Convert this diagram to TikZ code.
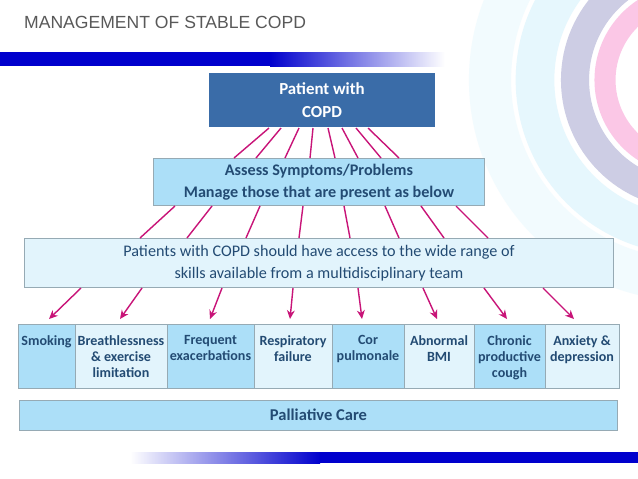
\documentclass[tikz,border=0pt]{standalone}
\usetikzlibrary{arrows.meta}
\usepackage{fontspec}
\setmainfont{Carlito}
\newfontfamily\titlefont{Liberation Sans}
\definecolor{dblue}{RGB}{0,0,205}
\definecolor{topbox}{RGB}{58,108,168}
\definecolor{lblue}{RGB}{172,223,248}
\definecolor{vlblue}{RGB}{226,244,252}
\definecolor{txtblue}{RGB}{35,75,115}
\definecolor{lnk}{RGB}{200,20,120}
\definecolor{edge}{RGB}{150,170,180}
\begin{document}
\begin{tikzpicture}[x=0.02cm,y=-0.02cm,
  box/.style={draw=edge,line width=0.5pt,text=txtblue,align=center,inner sep=0pt},
  lk/.style={draw=lnk,line width=0.8pt},
  ar/.style={lk,-{Stealth[length=5pt,width=4.5pt]}}]
\useasboundingbox (0,0) rectangle (638,478);
\fill[white] (0,0) rectangle (638,478);
% decorative rings
\begin{scope}
\clip (440,0) rectangle (638,330);
\draw[cyan!5,line width=24pt] (690,80) circle (200);
\draw[cyan!10,line width=22pt] (690,80) circle (155);
\draw[blue!30!gray!30,line width=16pt] (690,80) circle (115);
\draw[magenta!22,line width=12pt] (690,80) circle (85);
\end{scope}
% title and bars
\node[anchor=west,text=black!65,font=\titlefont\fontsize{10}{10}\selectfont] (title) at (18,22) {MANAGEMENT OF STABLE COPD};
\fill[dblue] (0,52) rectangle (270,66);
\shade[left color=dblue,right color=white] (270,52) rectangle (445,66);
\shade[left color=white,right color=dblue] (130,452) rectangle (320,463);
\fill[dblue] (320,452) rectangle (638,463);
% boxes
\node[box,draw=none,fill=topbox,text=white,font=\fontsize{9.6}{13}\selectfont\bfseries,minimum width=226*0.567pt,minimum height=55*0.567pt] (p) at (322,100) {Patient with\\COPD};
\node[box,fill=lblue,font=\fontsize{9.2}{12.5}\selectfont\bfseries,minimum width=332*0.567pt,minimum height=48*0.567pt] (a) at (319,182) {Assess Symptoms/Problems\\Manage those that are present as below};
\node[box,fill=vlblue,font=\fontsize{9.2}{12.5}\selectfont,minimum width=592*0.567pt,minimum height=50*0.567pt] (m) at (319,263) {Patients with COPD should have access to the wide range of\\skills available from a multidisciplinary team};
% cells
\foreach \xa/\xb/\c/\t/\n in {18/75/lblue/Smoking/c1, 75/167/vlblue/{Breathlessness\\\& exercise\\limitation}/c2, 167/254/lblue/{Frequent\\exacerbations}/c3, 254/332/vlblue/{Respiratory\\failure}/c4, 332/404/lblue/{Cor\\pulmonale}/c5, 404/474/vlblue/{Abnormal\\BMI}/c6, 474/545/lblue/{Chronic\\productive\\cough}/c7, 545/619/vlblue/{Anxiety \&\\depression}/c8}{
  \fill[\c,draw=edge,line width=0.5pt] (\xa,324) rectangle (\xb,388);
  \node[align=center,text=txtblue,font=\fontsize{8}{9.2}\selectfont\bfseries,anchor=north,inner sep=0pt] (\n) at ({(\xa+\xb)/2},335) {\t};
}
\node[box,fill=lblue,font=\fontsize{9.4}{9}\selectfont\bfseries,minimum width=601*0.567pt,minimum height=30*0.567pt] (pc) at (318.5,415) {Palliative Care};
% links
\foreach \u/\v in {269/234,281/256,299/285,313/310,328/335,342/358,356/381,368/399}
  \draw[lk] (\u,128) -- (\v,158);
\foreach \u/\v in {175/140,212/187,260/246,303/299,344/350,385/399,421/444,456/488}
  \draw[lk] (\u,206) -- (\v,238);
\foreach \u/\v in {81/49,142/120,222/210,293/290,358/362,423/437,484/507,543/574}
  \draw[ar] (\u,288) -- (\v,319);
\end{tikzpicture}
\end{document}
